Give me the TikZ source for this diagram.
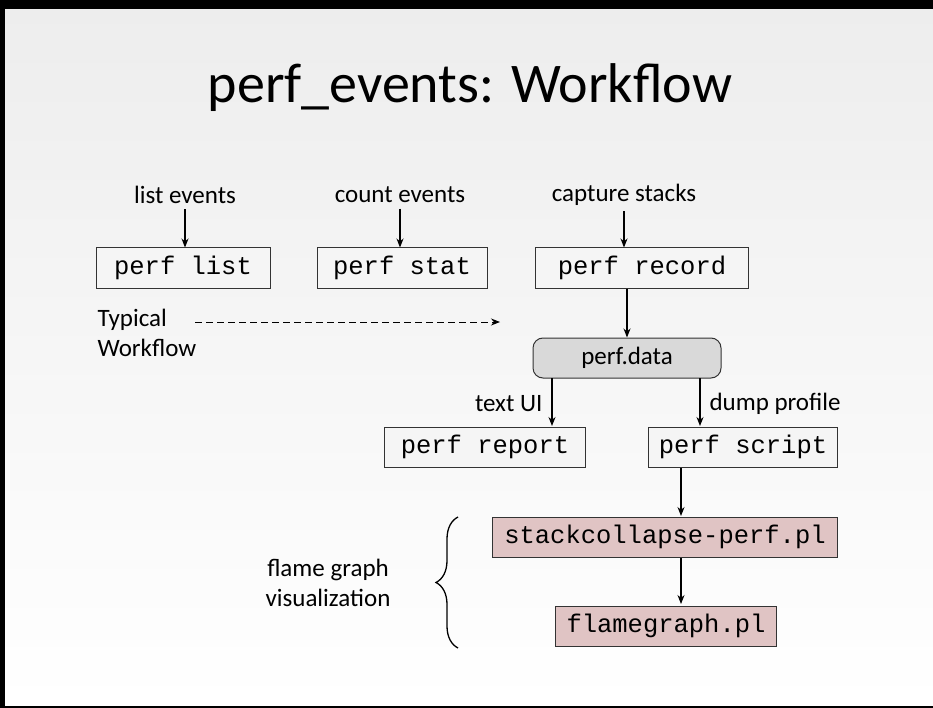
\documentclass[tikz,border=0pt]{standalone}
\usepackage{fontspec}
\setmainfont{Carlito}
\setmonofont{Liberation Mono}
\usetikzlibrary{decorations.pathreplacing,arrows.meta}
\definecolor{pinkf}{RGB}{224,196,196}
\begin{document}
\begin{tikzpicture}[x=1pt,y=-1pt,
 box/.style={draw=black!80,line width=1pt,fill=black!4,minimum height=40pt,font=\fontsize{25.5}{26}\ttfamily},
 pink/.style={box,fill=pinkf},
 lab/.style={font=\fontsize{25}{30}\selectfont},
 arr/.style={-{Stealth[length=9pt,width=7pt]},line width=1.1pt}]
\useasboundingbox (0,0) rectangle (933,708);
\fill[black] (0,0) rectangle (933,708);
\shade[top color=black!7,bottom color=white] (5,10) rectangle (933,705);
\node (t) at (470,88) {\fontsize{56}{56}\selectfont perf\_events: Workflow};
\node[lab] (l1) at (185,195) {list events};
\node[lab] (l2) at (400,195) {count events};
\node[lab] (l3) at (624,195) {capture stacks};
\node[box,minimum width=174pt] (pl) at (183,268) {perf list};
\node[box,minimum width=170pt] (ps) at (402,268) {perf stat};
\node[box,minimum width=213pt] (pr) at (642,268) {perf record};
\draw[arr] (l1.south) ++(0,2) -- (l1|-pl.north);
\draw[arr] (l2.south) ++(0,2) -- (l2|-ps.north);
\draw[arr] (l3.south) ++(0,2) -- (l3|-pr.north);
\node[lab,align=left,anchor=north west] (tw) at (94,306) {Typical\\Workflow};
\coordinate (de) at (500,322);
\draw[-{Stealth[length=9pt,width=7pt]},dash pattern=on 7pt off 4pt,line width=1pt] (195,322) -- (de);
\node[draw=black!80,line width=1pt,fill=black!15,rounded corners=10pt,minimum width=188pt,minimum height=40pt,font=\fontsize{25}{25}\selectfont] (pd) at (627,358) {perf.data};
\draw[arr] (pr.south-|pd) -- (pd.north);
\node[box,minimum width=201pt] (rep) at (485,447) {perf report};
\node[box,minimum width=189pt] (scr) at (743,447) {perf script};
\draw[arr] (552,378) -- (552,426) coordinate (a1);
\draw[arr] (700,378) -- (700,426) coordinate (a2);
\node[lab,anchor=east] (tu) at (546,404) {text UI};
\node[lab,anchor=west] (dp) at (706,404) {dump profile};
\node[pink,minimum width=345pt] (sc) at (665,537) {stackcollapse-perf.pl};
\node[pink,minimum width=221pt] (fg) at (666,626) {flamegraph.pl};
\draw[arr] (681,468) -- (681,516);
\draw[arr] (681,558) -- (681,604);
\draw[decorate,decoration={brace,amplitude=22pt},line width=1.3pt] (458,648) -- (458,517);
\node[lab,align=center] (fv) at (328,583) {flame graph\\visualization};
\end{tikzpicture}
\end{document}
